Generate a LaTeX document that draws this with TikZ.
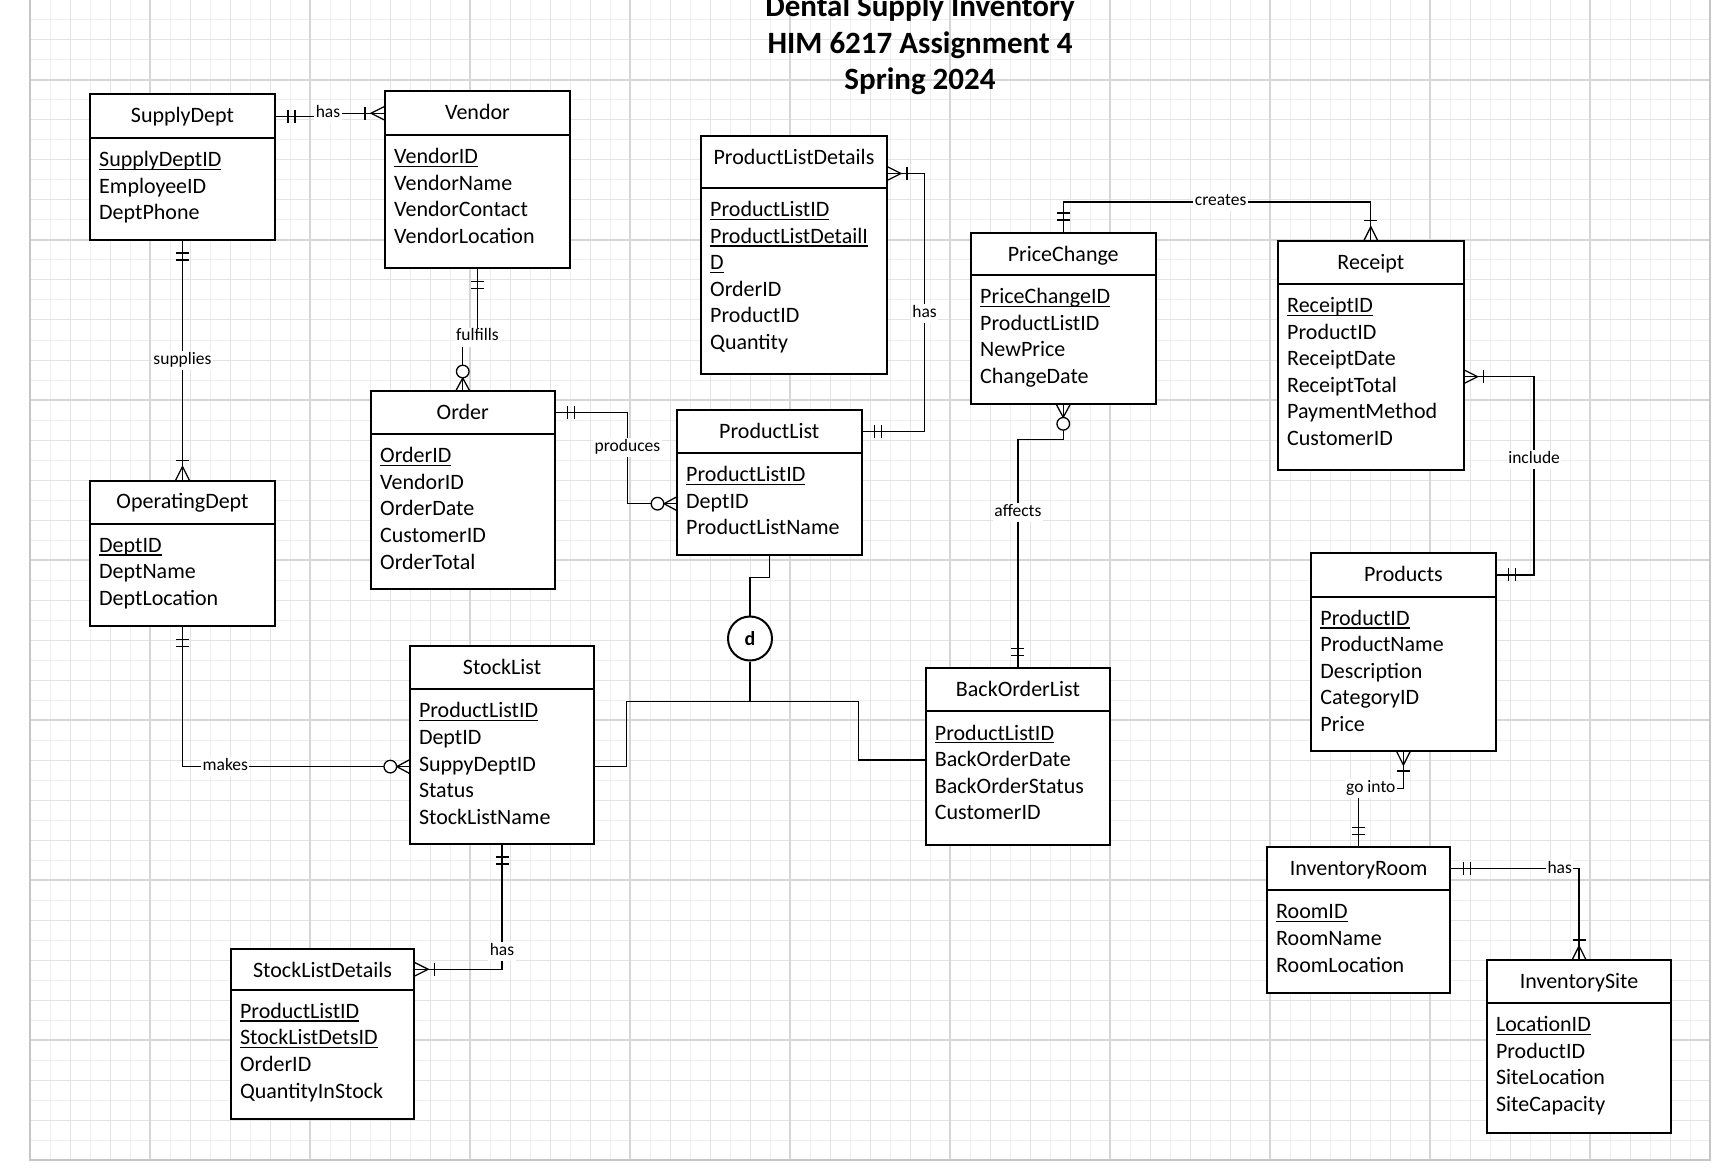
\documentclass[tikz,border=0pt]{standalone}
\usepackage{fontspec}
\setmainfont{Carlito}
\usetikzlibrary{calc}
\definecolor{gmin}{HTML}{EFEFEF}
\definecolor{gmed}{HTML}{E3E3E3}
\definecolor{gmaj}{HTML}{D6D6D6}
\definecolor{gbrd}{HTML}{C6C6C6}
\newsavebox\ulkbox
\newcommand{\ulk}[1]{\sbox\ulkbox{#1}\rlap{\rule[-3.4pt]{\wd\ulkbox}{1.3pt}}\usebox\ulkbox}
\tikzset{
  conn/.style={line width=1.3pt, black},
  ebody/.style={draw, line width=2pt, fill=white, inner sep=0pt, outer sep=0pt},
  ehead/.style={draw, line width=2pt, fill=white, inner sep=0pt, outer sep=0pt},
  etitle/.style={inner sep=0pt, font=\fontsize{22}{26}\selectfont},
  eattr/.style={inner sep=0pt, font=\fontsize{22}{26}\selectfont},
  lbl/.style={fill=white, inner sep=1.5pt, text height=12pt, text depth=4pt, font=\fontsize{17.5}{20}\selectfont},
  ttl/.style={inner sep=0pt, font=\fontsize{31}{36}\selectfont\bfseries},
  dcirc/.style={circle, draw, line width=2pt, fill=white, minimum size=44pt, inner sep=0pt, font=\fontsize{20}{24}\selectfont\bfseries},
  pics/mone/.style={code={\draw[conn] (13,-6.5) -- (13,6.5) (20,-6.5) -- (20,6.5);}},
  pics/mmany/.style={code={\draw[conn] (0,-7) -- (14,0) -- (0,7); \draw[conn] (20,-6.5) -- (20,6.5);}},
  pics/zmany/.style={code={\draw[conn] (0,-7) -- (13,0) -- (0,7); \draw[conn, fill=white] (19.5,0) circle (6.3);}},
}
% name, L, T, W, header height, total height, title, attributes
\newcommand{\entity}[8]{%
  \node[ebody, minimum width=#4, minimum height={#6-#5}, anchor=north west] (#1) at (#2,{#3+#5}) {};
  \node[ehead, minimum width=#4, minimum height=#5, anchor=north west] (#1H) at (#2,#3) {};
  \node[etitle, anchor=base] (#1T) at ({#2+#4/2},{#3+28.3}) {#7};
  \foreach \a [count=\i] in {#8} {\node[eattr, anchor=base west] (#1-\i) at ({#2+9},{#3+#5+28.6+(\i-1)*26.6}) {\a};}
}
\begin{document}
\begin{tikzpicture}[x=1pt, y=-1pt]
\useasboundingbox (0,0) rectangle (1732,1174);
\fill[white] (0,0) rectangle (1732,1174);
\clip (0,0) rectangle (1732,1174);
% grid
\foreach \x in {30,50,...,1710} \draw[gmin, line width=1pt] (\x,0) -- (\x,1160);
\foreach \y in {0,20,...,1160} \draw[gmin, line width=1pt] (30,\y) -- (1710,\y);
\foreach \x in {30,70,...,1710} \draw[gmed, line width=1pt] (\x,0) -- (\x,1160);
\foreach \y in {0,40,...,1160} \draw[gmed, line width=1pt] (30,\y) -- (1710,\y);
\foreach \x in {150,310,...,1590} \draw[gmaj, line width=1.2pt] (\x,0) -- (\x,1160);
\foreach \y in {80,240,...,1040} \draw[gmaj, line width=1.2pt] (30,\y) -- (1710,\y);
\draw[gbrd, line width=1.3pt] (30,0) -- (30,1160) -- (1710,1160) -- (1710,0);

% title
\node[ttl, anchor=base] (title1) at (920,16.8) {Dental Supply Inventory};
\node[ttl, anchor=base] (title2) at (920,53.3) {HIM 6217 Assignment 4};
\node[ttl, anchor=base] (title3) at (920,89.5) {Spring 2024};

% entities
\entity{supplydept}{90}{94.5}{185}{43.5}{145.5}{SupplyDept}{\ulk{SupplyDeptID},EmployeeID,DeptPhone}
\entity{vendor}{385}{91.5}{185}{43.5}{177}{Vendor}{\ulk{VendorID},VendorName,VendorContact,VendorLocation}
\entity{pld}{701}{136}{186}{52}{237.5}{ProductListDetails}{\ulk{ProductListID},\ulk{ProductListDetailI},\ulk{D},OrderID,ProductID,Quantity}
\entity{pricechange}{971}{233}{184.5}{42}{171.3}{PriceChange}{\ulk{PriceChangeID},ProductListID,NewPrice,ChangeDate}
\entity{receipt}{1278}{240.8}{185.6}{43.1}{228.7}{Receipt}{\ulk{ReceiptID},ProductID,ReceiptDate,ReceiptTotal,PaymentMethod,CustomerID}
\entity{order}{371}{391}{183.5}{43}{197.8}{Order}{\ulk{OrderID},VendorID,OrderDate,CustomerID,OrderTotal}
\entity{productlist}{677}{409.8}{184.5}{43.1}{144.7}{ProductList}{\ulk{ProductListID},DeptID,ProductListName}
\entity{operatingdept}{90}{480.5}{185}{43.1}{145.8}{OperatingDept}{\ulk{DeptID},DeptName,DeptLocation}
\entity{products}{1311.2}{553.4}{184.4}{43.1}{197.7}{Products}{\ulk{ProductID},ProductName,Description,CategoryID,Price}
\entity{stocklist}{409.8}{646.2}{184.5}{43.1}{197.7}{StockList}{\ulk{ProductListID},DeptID,SuppyDeptID,Status,StockListName}
\entity{backorderlist}{925.7}{668.3}{184.4}{43.1}{176.7}{BackOrderList}{\ulk{ProductListID},BackOrderDate,BackOrderStatus,CustomerID}
\entity{stocklistdetails}{230.9}{948.8}{183.3}{40.9}{170.2}{StockListDetails}{\ulk{ProductListID},\ulk{StockListDetsID},OrderID,QuantityInStock}
\entity{inventoryroom}{1267}{847.2}{183.3}{43.1}{145.8}{InventoryRoom}{\ulk{RoomID},RoomName,RoomLocation}
\entity{inventorysite}{1486.8}{959.9}{184.5}{43.1}{173.4}{InventorySite}{\ulk{LocationID},ProductID,SiteLocation,SiteCapacity}

\node[dcirc] (dnode) at (750,638.5) {d};

% connectors
\draw[conn] (supplydeptH.east) -- ++(45,0) |- (vendorH.west);
\draw[conn] (supplydept.south) -- (operatingdeptH.north);
\draw[conn] (vendor.south) -- ++(0,68.5) -| (orderH.north);
\draw[conn] (orderH.east) -- ++(73,0) |- (productlist.west);
\draw[conn] ($(pldH.east)+(0,11.5)$) -- ++(37.6,0) |- (productlistH.east);
\draw[conn] (pricechangeH.north) -- ++(0,-31) -| (receiptH.north);
\draw[conn] (pricechange.south) -- ++(0,35.3) -| (backorderlistH.north);
\draw[conn] (receipt.east) -- ++(70.5,0) |- (productsH.east);
\draw[conn] (products.south) -- ++(0,37.6) -| (inventoryroomH.north);
\draw[conn] (inventoryroomH.east) -| (inventorysiteH.north);
\draw[conn] (operatingdept.south) |- (stocklist.west);
\draw[conn] (stocklist.south) |- (stocklistdetailsH.east);
\draw[conn] (productlist.south) -- ++(0,23.2) -| (dnode.north);
\draw[conn] (dnode.south) -- ++(0,39.8) coordinate (dj);
\draw[conn] (stocklist.east) -- ++(32,0) |- (dj);
\draw[conn] (dj) -- ++(108.3,0) |- ($(backorderlist.west)+(0,-18.2)$);

% cardinality markers
\path (supplydeptH.east) pic{mone};
\path (vendorH.west) pic[rotate=180]{mmany};
\path (supplydept.south) pic[rotate=-90]{mone};
\path (operatingdeptH.north) pic[rotate=90]{mmany};
\path (vendor.south) pic[rotate=-90]{mone};
\path (orderH.north) pic[rotate=90]{zmany};
\path (orderH.east) pic{mone};
\path (productlist.west) pic[rotate=180]{zmany};
\path ($(pldH.east)+(0,11.5)$) pic{mmany};
\path (productlistH.east) pic{mone};
\path (pricechangeH.north) pic[rotate=90]{mone};
\path (receiptH.north) pic[rotate=90]{mmany};
\path (pricechange.south) pic[rotate=-90]{zmany};
\path (backorderlistH.north) pic[rotate=90]{mone};
\path (receipt.east) pic{mmany};
\path (productsH.east) pic{mone};
\path (products.south) pic[rotate=-90]{mmany};
\path (inventoryroomH.north) pic[rotate=90]{mone};
\path (inventoryroomH.east) pic{mone};
\path (inventorysiteH.north) pic[rotate=90]{mmany};
\path (operatingdept.south) pic[rotate=-90]{mone};
\path (stocklist.west) pic[rotate=180]{zmany};
\path (stocklist.south) pic[rotate=-90]{mone};
\path (stocklistdetailsH.east) pic{mmany};

% relationship labels
\node[lbl] (lhas1) at (328,114) {has};
\node[lbl] (lsupplies) at (182.5,360) {supplies};
\node[lbl] (lfulfills) at (477.5,337) {fulfills};
\node[lbl] (lproduces) at (627.5,447.4) {produces};
\node[lbl] (lhas2) at (924.6,313.7) {has};
\node[lbl] (lcreates) at (1220.6,202) {creates};
\node[lbl] (laffects) at (1017.9,512.5) {affects};
\node[lbl] (linclude) at (1534.1,459.5) {include};
\node[lbl] (lgointo) at (1370.8,788.7) {go into};
\node[lbl] (lhas3) at (1559.7,869.3) {has};
\node[lbl] (lmakes) at (225.3,766.6) {makes};
\node[lbl] (lhas4) at (502,951) {has};
\end{tikzpicture}
\end{document}
